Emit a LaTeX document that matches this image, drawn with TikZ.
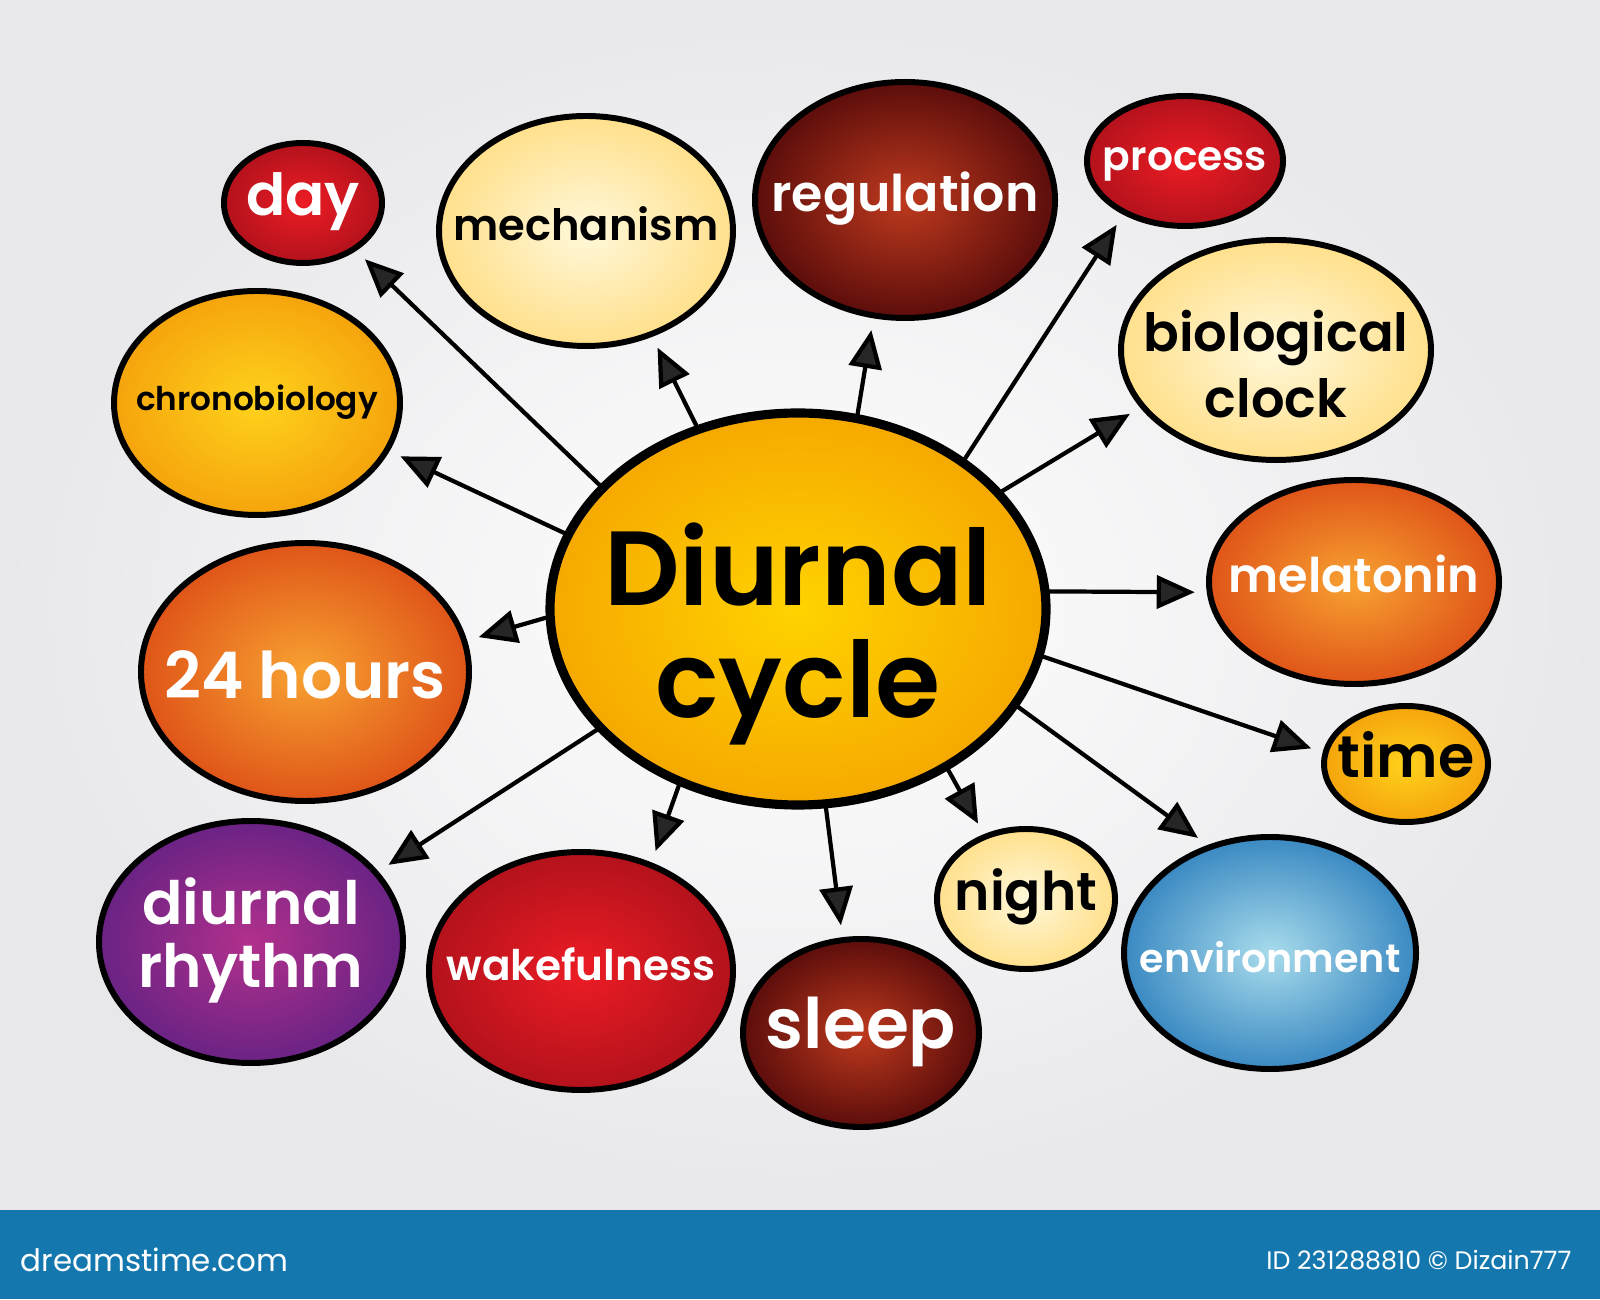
\documentclass[tikz,border=0pt]{standalone}
\usepackage{fontspec}
\setmainfont{Poppins}[BoldFont = * SemiBold]
\usepackage{tikz}
\usetikzlibrary{shapes,arrows,arrows.meta}
\definecolor{redin}{HTML}{EC1C24}
\definecolor{redout}{HTML}{B3121C}
\definecolor{paleIn}{HTML}{FFF8DA}
\definecolor{paleOut}{HTML}{FFE08C}
\definecolor{brownin}{HTML}{BE3A1E}
\definecolor{brownout}{HTML}{5C0D0B}
\definecolor{goldin}{HTML}{FFD21C}
\definecolor{goldout}{HTML}{F5A40C}
\definecolor{orangein}{HTML}{F8A232}
\definecolor{orangeout}{HTML}{DF5518}
\definecolor{purplein}{HTML}{B2308C}
\definecolor{purpleout}{HTML}{6A2384}
\definecolor{bluein}{HTML}{A9DCEC}
\definecolor{blueout}{HTML}{3A89C2}
\definecolor{hubin}{HTML}{FFD300}
\definecolor{hubout}{HTML}{F6A900}
\definecolor{bggrey}{HTML}{E8E8EB}
\definecolor{barblue}{HTML}{1478AF}
% label text, optionally lowered inside its bubble
\newcommand{\bub}[2][0pt]{\makebox[0pt]{\raisebox{-#1}[\height][\depth]{\begin{tabular}{@{}c@{}}#2\end{tabular}}}}
\tikzset{
    bubble/.style 2 args = { draw, ellipse, line width = 1.7pt,
        inner sep = 0pt,
        minimum width = #1,
        minimum height = #2
    },
    hub/.style = { draw, ellipse, line width = 2.6pt,
        inner sep = 0pt,
        minimum width = 4.96cm,
        minimum height = 3.92cm,
        inner color = hubin, outer color = hubout,
        font = \fontsize{30pt}{32pt}\selectfont\bfseries
    },
    arrow/.style = { -{Triangle[length=0.38cm, width=0.33cm, fill=black!85]},
        line width = 1.2pt, line cap = round, line join = round,
        shorten > = 0.12cm
    },
    bartext/.style = { text = white, inner sep = 0pt }
}

\begin{document}
\begin{tikzpicture}
        \useasboundingbox (0,0) rectangle (16,12.99);
        \shade[inner color=white, outer color=bggrey] (0,0.89) rectangle (16,12.99);
        \fill[barblue] (0,0) rectangle (16,0.89);

        % centre...
        \node[hub] (dc) at (7.98,6.90) {\bub[8pt]{Diurnal\\cycle}};

        % top row...
        \node[bubble={1.58cm}{1.20cm}, inner color=redin, outer color=redout, text=white,
            font=\fontsize{16.5pt}{18pt}\selectfont\bfseries] (day) at (3.03,10.96) {\bub{day}};
        \node[bubble={2.94cm}{2.30cm}, inner color=paleIn, outer color=paleOut,
            font=\fontsize{12.3pt}{14pt}\selectfont\bfseries] (mech) at (5.86,10.68) {\bub{mechanism}};
        \node[bubble={3.00cm}{2.36cm}, inner color=brownin, outer color=brownout, text=white,
            font=\fontsize{14.4pt}{16pt}\selectfont\bfseries] (reg) at (9.05,10.99) {\bub{regulation}};
        \node[bubble={1.96cm}{1.30cm}, inner color=redin, outer color=redout, text=white,
            font=\fontsize{11.6pt}{13pt}\selectfont\bfseries] (proc) at (11.85,11.38) {\bub{process}};

        % left side...
        \node[bubble={2.86cm}{2.24cm}, inner color=goldin, outer color=goldout,
            font=\fontsize{9.3pt}{11pt}\selectfont\bfseries] (chrono) at (2.57,8.96) {\bub{chronobiology}};
        \node[bubble={3.28cm}{2.58cm}, inner color=orangein, outer color=orangeout, text=white,
            font=\fontsize{18.3pt}{20pt}\selectfont\bfseries] (hours) at (3.05,6.27) {\bub[3.5pt]{24 hours}};
        \node[bubble={3.04cm}{2.42cm}, inner color=purplein, outer color=purpleout, text=white,
            font=\fontsize{17pt}{18pt}\selectfont\bfseries] (rhythm) at (2.51,3.57) {\bub{diurnal\\rhythm}};

        % right side...
        \node[bubble={3.10cm}{2.20cm}, inner color=paleIn, outer color=paleOut,
            font=\fontsize{15pt}{19pt}\selectfont\bfseries] (bio) at (12.76,9.49) {\bub[6pt]{biological\\clock}};
        \node[bubble={2.90cm}{2.04cm}, inner color=orangein, outer color=orangeout, text=white,
            font=\fontsize{13.6pt}{15pt}\selectfont\bfseries] (mela) at (13.54,7.17) {\bub{melatonin}};
        \node[bubble={1.64cm}{1.16cm}, inner color=goldin, outer color=goldout,
            font=\fontsize{16.7pt}{18pt}\selectfont\bfseries] (time) at (14.06,5.35) {\bub{time}};

        % bottom row...
        \node[bubble={3.04cm}{2.38cm}, inner color=redin, outer color=redout, text=white,
            font=\fontsize{12pt}{14pt}\selectfont\bfseries] (wake) at (5.81,3.28) {\bub{wakefulness}};
        \node[bubble={2.36cm}{1.88cm}, inner color=brownin, outer color=brownout, text=white,
            font=\fontsize{19.8pt}{22pt}\selectfont\bfseries] (sleep) at (8.61,2.66) {\bub{sleep}};
        \node[bubble={1.78cm}{1.40cm}, inner color=paleIn, outer color=paleOut,
            font=\fontsize{15.2pt}{17pt}\selectfont\bfseries] (night) at (10.26,4.00) {\bub{night}};
        \node[bubble={2.92cm}{2.32cm}, inner color=bluein, outer color=blueout, text=white,
            font=\fontsize{11.3pt}{13pt}\selectfont\bfseries] (env) at (12.70,3.46) {\bub[3pt]{environment}};

        % arrows...
        \draw[arrow] (dc.148.5) -- (day.-42);
        \draw[arrow] (dc.119.7) -- (mech.-58);
        \draw[arrow] (dc.73.4)  -- (reg.-105);
        \draw[arrow] (dc.42.7)  -- (proc.-139);
        \draw[arrow] (dc.30.4)  -- (bio.-157);
        \draw[arrow] (dc.162.5) -- (chrono.-20);
        \draw[arrow] (dc.-178)  -- (hours.11);
        \draw[arrow] (dc.4.5)   -- (mela.184);
        \draw[arrow] (dc.-11.5) -- (time.172);
        \draw[arrow] (dc.-149.7) -- (rhythm.29.5);
        \draw[arrow] (dc.-124)  -- (wake.57);
        \draw[arrow] (dc.-82.3) -- (sleep.101);
        \draw[arrow] (dc.-47.3) -- (night.123);
        \draw[arrow] (dc.-24.7) -- (env.120);

        % footer...
        \node[bartext, anchor=west, font=\fontsize{8.8pt}{10pt}\selectfont] (brand) at (0.20,0.39) {dreamstime.com};
        \node[bartext, anchor=east, font=\fontsize{7.2pt}{8pt}\selectfont] (stockid) at (15.72,0.39) {ID 231288810 © Dizain777};
\end{tikzpicture}
\end{document}
